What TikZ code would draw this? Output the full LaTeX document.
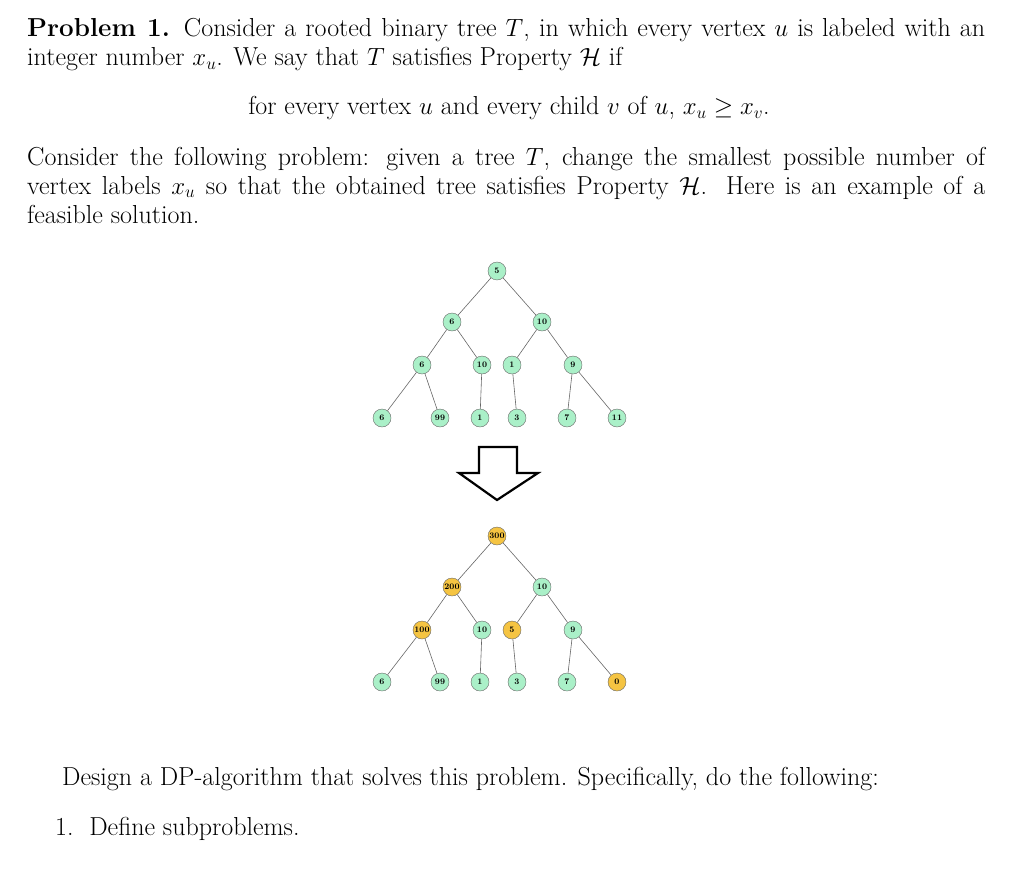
\documentclass[tikz,border=0pt]{standalone}
\usepackage{amsmath,amssymb}
\begin{document}
\begin{tikzpicture}[x=1pt,y=-1pt,
  txt/.style={anchor=base west,inner sep=0pt,font=\fontsize{26}{29}\selectfont},
  vg/.style={circle,draw=black!60,fill={rgb,255:red,170;green,240;blue,200},minimum size=18pt,inner sep=0pt,font=\fontsize{8.5}{8.5}\selectfont\bfseries},
  vo/.style={vg,fill={rgb,255:red,245;green,196;blue,66}},
  ed/.style={draw=black!60,line width=0.6pt}]
\useasboundingbox (0,0) rectangle (1024,869);
\node[txt] (l1) at (27,37) {\makebox[958pt][s]{\textbf{Problem 1.} Consider a rooted binary tree $T$, in which every vertex $u$ is labeled with an}};
\node[txt] (l2) at (27,66) {integer number $x_u$. We say that $T$ satisfies Property $\mathcal{H}$ if};
\node[txt,anchor=base] (l3) at (509,115) {for every vertex $u$ and every child $v$ of $u$, $x_u \geq x_v$.};
\node[txt] (l4) at (27,165) {\makebox[958pt][s]{Consider the following problem: given a tree $T$, change the smallest possible number of}};
\node[txt] (l5) at (27,194) {\makebox[958pt][s]{vertex labels $x_u$ so that the obtained tree satisfies Property $\mathcal{H}$. Here is an example of a}};
\node[txt] (l6) at (27,223) {feasible solution.};
\node[txt] (l7) at (62,785) {Design a DP-algorithm that solves this problem. Specifically, do the following:};
\node[txt] (l8) at (55,835) {1.\ \ Define subproblems.};
% tree 1
\node[vg] (a) at (497,271) {5};
\node[vg] (b) at (452,322) {6};
\node[vg] (c) at (542,322) {10};
\node[vg] (d) at (422,365) {6};
\node[vg] (e) at (482,365) {10};
\node[vg] (f) at (512,365) {1};
\node[vg] (g) at (573,365) {9};
\node[vg] (h) at (382,418) {6};
\node[vg] (i) at (440,418) {99};
\node[vg] (j) at (480,418) {1};
\node[vg] (k) at (517,418) {3};
\node[vg] (m) at (567,418) {7};
\node[vg] (n) at (617,418) {11};
\foreach \p/\q in {a/b,a/c,b/d,b/e,c/f,c/g,d/h,d/i,e/j,f/k,g/m,g/n} \draw[ed] (\p)--(\q);
% arrow
\coordinate (ar) at (497,500);
\draw[line width=2.2pt,line join=miter] (479,447)--(517,447)--(517,473)--(538,473)--(ar)--(459,473)--(479,473)--cycle;
% tree 2
\node[vo] (A) at (497,536) {300};
\node[vo] (B) at (452,587) {200};
\node[vg] (C) at (542,587) {10};
\node[vo] (D) at (422,630) {100};
\node[vg] (E) at (482,630) {10};
\node[vo] (F) at (512,630) {5};
\node[vg] (G) at (573,630) {9};
\node[vg] (H) at (382,682) {6};
\node[vg] (I) at (440,682) {99};
\node[vg] (J) at (480,682) {1};
\node[vg] (K) at (517,682) {3};
\node[vg] (M) at (567,682) {7};
\node[vo] (N) at (617,682) {0};
\foreach \p/\q in {A/B,A/C,B/D,B/E,C/F,C/G,D/H,D/I,E/J,F/K,G/M,G/N} \draw[ed] (\p)--(\q);
\end{tikzpicture}
\end{document}
